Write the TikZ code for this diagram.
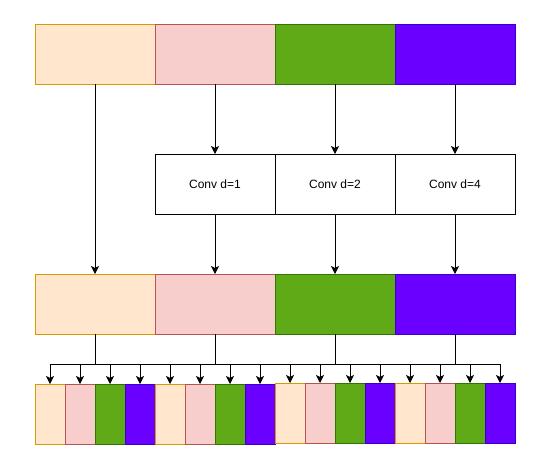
\documentclass[tikz,border=0pt]{standalone}
\usepackage{fontspec}
\setmainfont{Liberation Sans}
\usetikzlibrary{arrows.meta}
\begin{document}
\begin{tikzpicture}[x=1pt,y=-1pt,
  cA/.style={draw={rgb,255:red,215;green,155;blue,0},fill={rgb,255:red,255;green,230;blue,204}},
  cB/.style={draw={rgb,255:red,184;green,84;blue,80},fill={rgb,255:red,248;green,206;blue,204}},
  cC/.style={draw={rgb,255:red,45;green,118;blue,0},fill={rgb,255:red,96;green,169;blue,23}},
  cD/.style={draw={rgb,255:red,55;green,0;blue,204},fill={rgb,255:red,106;green,0;blue,255}},
  big/.style={minimum width=120pt,minimum height=60pt,inner sep=0pt,outer sep=0pt,line width=1pt},
  small/.style={minimum width=30pt,minimum height=60pt,inner sep=0pt,outer sep=0pt,line width=1pt},
  conv/.style={big,draw=black,fill=white,font=\fontsize{12}{14}\selectfont},
  arr/.style={line width=1pt,-{Stealth[length=8pt,width=8pt,inset=2pt]}},
  ln/.style={line width=1pt}]
\useasboundingbox (0,0) rectangle (558,472);
% top row
\node[big,cA] (t1) at (95,54) {};
\node[big,cB] (t2) at (215,54) {};
\node[big,cC] (t3) at (335,54) {};
\node[big,cD] (t4) at (455,54) {};
% conv row
\node[conv] (c1) at (215,184) {Conv d=1};
\node[conv] (c2) at (335,184) {Conv d=2};
\node[conv] (c3) at (455,184) {Conv d=4};
% middle row
\node[big,cA] (m1) at (95,304) {};
\node[big,cB] (m2) at (215,304) {};
\node[big,cC] (m3) at (335,304) {};
\node[big,cD] (m4) at (455,304) {};
% bottom row
\foreach \i/\s in {0/cA,1/cB,2/cC,3/cD,4/cA,5/cB,6/cC,7/cD}{
  \node[small,\s] (b\i) at ({50+30*\i},414) {};
}
\foreach \i/\s in {8/cA,9/cB,10/cC,11/cD,12/cA,13/cB,14/cC,15/cD}{
  \node[small,\s] (b\i) at ({50+30*\i},413) {};
}
% arrows
\draw[arr] (t1.south) -- (m1.north);
\draw[arr] (t2.south) -- (c1.north);
\draw[arr] (t3.south) -- (c2.north);
\draw[arr] (t4.south) -- (c3.north);
\draw[arr] (c1.south) -- (m2.north);
\draw[arr] (c2.south) -- (m3.north);
\draw[arr] (c3.south) -- (m4.north);
% bus
\coordinate (busL) at (50,364);
\coordinate (busR) at (500,364);
\draw[ln] (busL) -- (busR);
\foreach \k in {1,2,3,4}{
  \draw[ln] (m\k.south) -- (m\k.south |- busL);
}
\foreach \i in {0,...,15}{
  \draw[arr] (b\i.north |- busL) -- (b\i.north);
}
\end{tikzpicture}
\end{document}
